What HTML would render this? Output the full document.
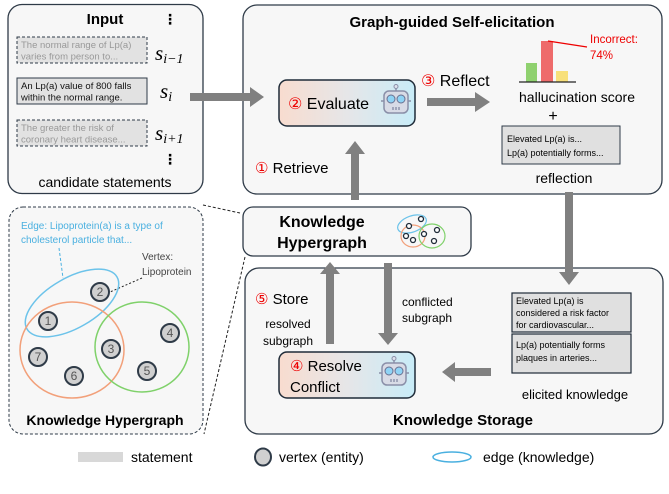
<!DOCTYPE html>
<html><head><meta charset="utf-8"><style>
html,body{margin:0;padding:0;background:#fff;}
svg{display:block;font-family:"Liberation Sans","DejaVu Sans",sans-serif;}
</style></head><body>
<svg width="669" height="494" viewBox="0 0 669 494" xmlns="http://www.w3.org/2000/svg">
<defs>
<linearGradient id="g1" x1="0" x2="1" y1="0" y2="0"><stop offset="0" stop-color="#f8dccf"/><stop offset="0.5" stop-color="#e6e6e8"/><stop offset="1" stop-color="#c8ecf8"/></linearGradient>
<g id="robot">
<line x1="15" y1="0" x2="15" y2="6" stroke="#8a8fa8" stroke-width="1.5"/>
<circle cx="15" cy="1.5" r="2" fill="#dfe3ee" stroke="#8a8fa8"/>
<rect x="3" y="6" width="24" height="22" rx="5" fill="#d8dbe6" stroke="#8a8fa8" stroke-width="1.5"/>
<line x1="0" y1="16" x2="3" y2="16" stroke="#8a8fa8" stroke-width="1.5"/><line x1="27" y1="16" x2="30" y2="16" stroke="#8a8fa8" stroke-width="1.5"/>
<circle cx="10" cy="14" r="4" fill="#8fd3f5" stroke="#6a7090"/><circle cx="20" cy="14" r="4" fill="#8fd3f5" stroke="#6a7090"/>
<line x1="12" y1="22" x2="12" y2="25" stroke="#6a7090"/><line x1="15" y1="22" x2="15" y2="25" stroke="#6a7090"/><line x1="18" y1="22" x2="18" y2="25" stroke="#6a7090"/>
</g>
</defs>

<!-- Input box -->
<rect x="8" y="4.5" width="195" height="189" rx="14" fill="#f7f7f7" stroke="#2f3b48" stroke-width="1.3"/>
<text x="105" y="24" font-size="15" font-weight="bold" text-anchor="middle">Input</text>
<text x="170" y="24" font-size="14" font-weight="bold" text-anchor="middle">⋮</text>
<rect x="17" y="37" width="130" height="26" fill="#e2e2e2" stroke="#2f3b48" stroke-dasharray="3,2"/>
<text x="21" y="48" font-size="9.5" fill="#999">The normal range of Lp(a)</text>
<text x="21" y="59.5" font-size="9.5" fill="#999">varies from person to...</text>
<rect x="17" y="78" width="130" height="26" fill="#e2e2e2" stroke="#2f3b48"/>
<text x="21" y="89" font-size="9.5" fill="#111">An Lp(a) value of 800 falls</text>
<text x="21" y="100.5" font-size="9.5" fill="#111">within the normal range.</text>
<rect x="17" y="120" width="130" height="26" fill="#e2e2e2" stroke="#2f3b48" stroke-dasharray="3,2"/>
<text x="21" y="131" font-size="9.5" fill="#999">The greater the risk of</text>
<text x="21" y="142.5" font-size="9.5" fill="#999">coronary heart disease...</text>
<text x="155" y="60" font-family="Liberation Serif,serif" font-style="italic" font-size="21">s<tspan font-size="14" dy="3">i−1</tspan></text>
<text x="160" y="98" font-family="Liberation Serif,serif" font-style="italic" font-size="21">s<tspan font-size="14" dy="3">i</tspan></text>
<text x="155" y="140" font-family="Liberation Serif,serif" font-style="italic" font-size="21">s<tspan font-size="14" dy="3">i+1</tspan></text>
<text x="170" y="164" font-size="14" font-weight="bold" text-anchor="middle">⋮</text>
<text x="105" y="187" font-size="14" text-anchor="middle">candidate statements</text>

<!-- Graph-guided box -->
<rect x="243" y="5" width="419" height="189" rx="14" fill="#f7f7f7" stroke="#2f3b48" stroke-width="1.3"/>
<text x="452" y="27" font-size="15" font-weight="bold" text-anchor="middle">Graph-guided Self-elicitation</text>
<rect x="279" y="80" width="136" height="46" rx="8" fill="url(#g1)" stroke="#1f2b38" stroke-width="1.5"/>
<text x="288" y="109" font-size="16"><tspan fill="#e00">②</tspan> Evaluate</text>
<use href="#robot" x="381" y="85"/>
<polygon points="190,93 250,93 250,87 264,97 250,107 250,101 190,101" fill="#808080"/>
<text x="421" y="86" font-size="16"><tspan fill="#e00">③</tspan> Reflect</text>
<polygon points="427,98 475,98 475,92 490,102 475,112 475,106 427,106" fill="#808080"/>
<rect x="526" y="63" width="11" height="19" fill="#8fd16f"/>
<rect x="541" y="41" width="12" height="41" fill="#ee6b6b"/>
<rect x="556" y="71" width="12" height="11" fill="#f8e07a"/>
<line x1="519" y1="82" x2="576" y2="82" stroke="#222" stroke-width="1.2"/>
<line x1="548" y1="41" x2="587" y2="47" stroke="#e00" stroke-width="1.3"/>
<text x="590" y="43" font-size="11.5" fill="#e00">Incorrect:</text>
<text x="590" y="59" font-size="11.5" fill="#e00">74%</text>
<text x="577" y="102" font-size="14" text-anchor="middle">hallucination score</text>
<text x="553" y="121" font-size="16" text-anchor="middle">+</text>
<rect x="502" y="126" width="118" height="38" fill="#e0e0e0" stroke="#2f3b48"/>
<text x="507" y="142" font-size="9">Elevated Lp(a) is...</text>
<text x="507" y="156" font-size="9">Lp(a) potentially forms...</text>
<text x="564" y="183" font-size="14" text-anchor="middle">reflection</text>
<text x="255" y="173" font-size="15"><tspan fill="#e00">①</tspan> Retrieve</text>
<polygon points="351,200 351,154 345,154 355,141 365,154 359,154 359,200" fill="#808080"/>

<!-- left dashed hypergraph -->
<rect x="9" y="207" width="194" height="227" rx="14" fill="#f7f7f7" stroke="#2f3b48" stroke-dasharray="3,2"/>
<line x1="203" y1="205" x2="240" y2="213" stroke="#222" stroke-dasharray="3,2"/>
<line x1="245" y1="257" x2="204" y2="434" stroke="#222" stroke-dasharray="3,2"/>
<text x="21" y="229" font-size="10" fill="#4ab0e0">Edge: Lipoprotein(a) is a type of</text>
<text x="21" y="243" font-size="10" fill="#4ab0e0">cholesterol particle that...</text>
<line x1="59" y1="248" x2="63" y2="278" stroke="#4ab0e0" stroke-dasharray="3,2"/>
<text x="142" y="260" font-size="10" fill="#444">Vertex:</text>
<text x="142" y="275" font-size="10" fill="#444">Lipoprotein</text>
<line x1="142" y1="278" x2="110" y2="292" stroke="#222" stroke-dasharray="2,2"/>
<ellipse cx="72" cy="303" rx="52" ry="25" transform="rotate(-30 72 303)" fill="none" stroke="#6cc3ea" stroke-width="1.5"/>
<ellipse cx="72" cy="350" rx="52" ry="48" fill="none" stroke="#f2a07a" stroke-width="1.5"/>
<ellipse cx="142" cy="347" rx="47" ry="45" fill="none" stroke="#7fd16a" stroke-width="1.5"/>
<g font-size="12" fill="#555" text-anchor="middle" stroke-width="2">
<circle cx="100" cy="292" r="9" fill="#d0d0d0" stroke="#2f3b48"/><text x="100" y="296">2</text>
<circle cx="48" cy="321" r="9" fill="#d0d0d0" stroke="#2f3b48"/><text x="48" y="325">1</text>
<circle cx="38" cy="357" r="9" fill="#d0d0d0" stroke="#2f3b48"/><text x="38" y="361">7</text>
<circle cx="74" cy="376" r="9" fill="#d0d0d0" stroke="#2f3b48"/><text x="74" y="380">6</text>
<circle cx="111" cy="349" r="9" fill="#d0d0d0" stroke="#2f3b48"/><text x="111" y="353">3</text>
<circle cx="147" cy="371" r="9" fill="#d0d0d0" stroke="#2f3b48"/><text x="147" y="375">5</text>
<circle cx="170" cy="333" r="9" fill="#d0d0d0" stroke="#2f3b48"/><text x="170" y="337">4</text>
</g>
<text x="105" y="425" font-size="14" font-weight="bold" text-anchor="middle">Knowledge Hypergraph</text>

<!-- Knowledge hypergraph box -->
<rect x="243" y="207" width="228" height="49" rx="10" fill="#f7f7f7" stroke="#2f3b48" stroke-width="1.3"/>
<text x="322" y="227" font-size="16" font-weight="bold" text-anchor="middle">Knowledge</text>
<text x="322" y="248" font-size="16" font-weight="bold" text-anchor="middle">Hypergraph</text>
<ellipse cx="412" cy="224" rx="15" ry="8" transform="rotate(-20 412 224)" fill="none" stroke="#6cc3ea" stroke-width="1.2"/>
<ellipse cx="413" cy="236" rx="12" ry="11" fill="none" stroke="#f2a07a" stroke-width="1.2"/>
<ellipse cx="432" cy="236" rx="13" ry="12" fill="none" stroke="#7fd16a" stroke-width="1.2"/>
<g fill="#fff" stroke="#1f2b38" stroke-width="1.3">
<circle cx="421" cy="219" r="2.5"/><circle cx="409" cy="226" r="2.5"/><circle cx="406" cy="236" r="2.5"/><circle cx="413" cy="240" r="2.5"/><circle cx="424" cy="234" r="2.5"/><circle cx="437" cy="230" r="2.5"/><circle cx="434" cy="241" r="2.5"/>
</g>

<!-- Storage box -->
<rect x="245" y="268" width="418" height="166" rx="14" fill="#f7f7f7" stroke="#2f3b48" stroke-width="1.3"/>
<polygon points="565,192 573,192 573,272 579,272 569,285 559,272 565,272" fill="#808080"/>
<text x="255" y="304" font-size="15"><tspan fill="#e00">⑤</tspan> Store</text>
<text x="288" y="328" font-size="12" text-anchor="middle">resolved</text>
<text x="288" y="345" font-size="12" text-anchor="middle">subgraph</text>
<text x="402" y="306" font-size="12">conflicted</text>
<text x="402" y="322" font-size="12">subgraph</text>
<polygon points="326,344 326,274 320,274 330,262 340,274 334,274 334,344" fill="#808080"/>
<polygon points="384,263 392,263 392,333 398,333 388,345 378,333 384,333" fill="#808080"/>
<rect x="279" y="352" width="136" height="46" rx="8" fill="url(#g1)" stroke="#1f2b38" stroke-width="1.5"/>
<text x="290" y="371" font-size="15"><tspan fill="#e00">④</tspan> Resolve</text>
<text x="290" y="392" font-size="15">Conflict</text>
<use href="#robot" x="379" y="357"/>
<polygon points="491,368 455,368 455,362 442,372 455,382 455,376 491,376" fill="#808080"/>
<rect x="512" y="293" width="119" height="39" fill="#e0e0e0" stroke="#1f2b38" stroke-width="1.2"/>
<text x="516" y="304" font-size="9">Elevated Lp(a) is</text>
<text x="516" y="316" font-size="9">considered a risk factor</text>
<text x="516" y="328" font-size="9">for cardiovascular...</text>
<rect x="512" y="334" width="119" height="39" fill="#e0e0e0" stroke="#1f2b38" stroke-width="1.2"/>
<text x="516" y="348" font-size="9">Lp(a) potentially forms</text>
<text x="516" y="361" font-size="9">plaques in arteries...</text>
<text x="575" y="399" font-size="13" text-anchor="middle">elicited knowledge</text>
<text x="463" y="425" font-size="15" font-weight="bold" text-anchor="middle">Knowledge Storage</text>

<!-- legend -->
<rect x="78" y="452" width="45" height="10" fill="#d8d8d8"/>
<text x="131" y="462" font-size="14">statement</text>
<ellipse cx="263" cy="457" rx="8" ry="8.5" fill="#d0d0d0" stroke="#2f3b48" stroke-width="2"/>
<text x="279" y="462" font-size="14">vertex (entity)</text>
<ellipse cx="452" cy="457" rx="19" ry="5" fill="none" stroke="#4ab0e0" stroke-width="1.5"/>
<text x="483" y="462" font-size="14">edge (knowledge)</text>
</svg>
</body></html>
